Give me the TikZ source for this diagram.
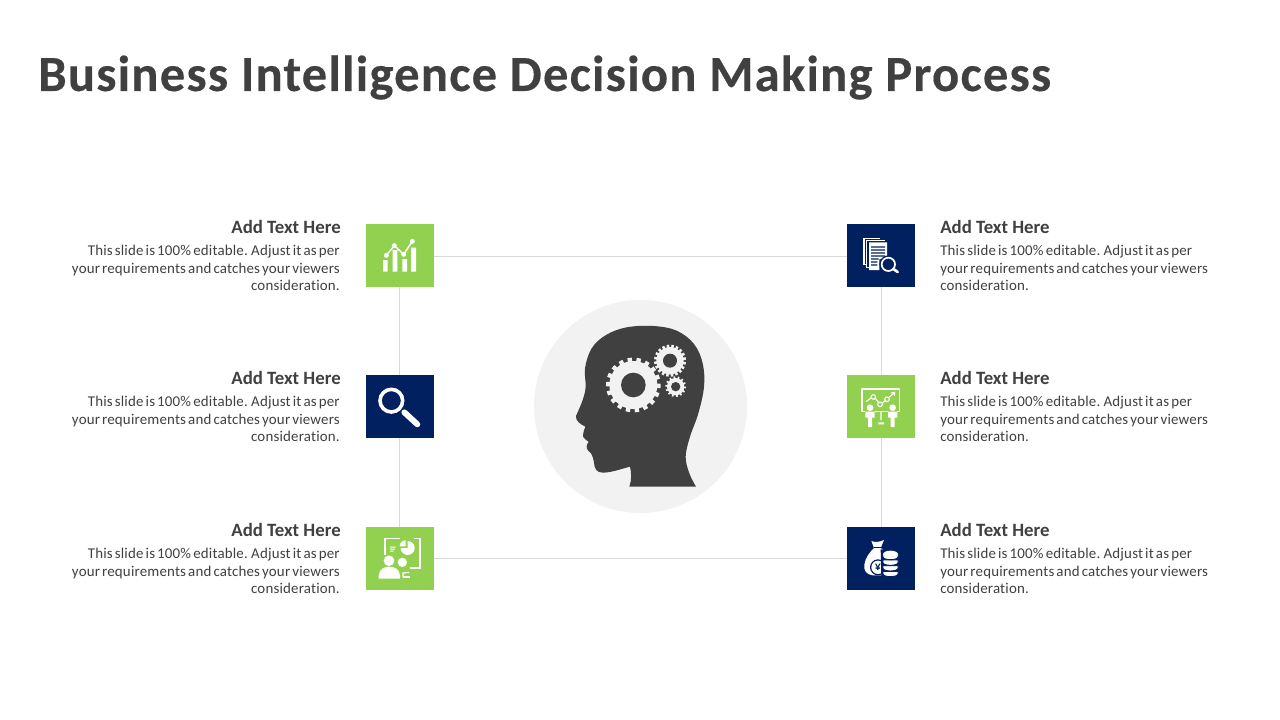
\documentclass[tikz,border=0pt]{standalone}
\usepackage{fontspec}
\setmainfont{Carlito}
\newfontfamily\titlefont[LetterSpace=2.4,BoldFeatures={FakeBold=0.25}]{Carlito}
\newfontfamily\bodyfont[LetterSpace=1.2,WordSpace=0.6,Ligatures=NoCommon]{Carlito}
\definecolor{ink}{HTML}{404040}
\definecolor{leaf}{HTML}{92D050}
\definecolor{navy}{HTML}{002060}
\definecolor{rulec}{HTML}{D9D9D9}
\definecolor{pale}{HTML}{F2F2F2}
\tikzset{
  sqbox/.style={minimum width=51pt,minimum height=47.25pt,inner sep=0pt,outer sep=0pt},
  greenbox/.style={sqbox,fill=leaf},
  navybox/.style={sqbox,fill=navy},
  linkline/.style={draw=rulec,line width=0.6pt},
  headl/.style={font=\fontsize{14.1}{15}\selectfont\bfseries,text=ink,inner sep=0pt},
  bodyl/.style={font=\bodyfont\fontsize{11.2}{13.05}\selectfont,text=ink,inner sep=0pt},
  zoomed/.style={shift={(#1)},x=0.25pt,y=-0.25pt},
  wl/.style={draw=white,line cap=round,line join=round},
}
\newcommand{\gearshape}[6]{% cx cy r-body r-tip teeth hole
  \fill[pale] (#1,#2) circle[radius=#3];
  \foreach \k in {1,...,#5}{
    \fill[pale,shift={(#1,#2)},rotate=360*\k/#5+8]
      (-#4*0.08,0) rectangle (#4*0.08,#4);
  }
  \fill[ink] (#1,#2) circle[radius=#6];
}
\newcommand{\leftblock}[3]{%
  \node[headl,anchor=base east] (#1h) at (341,#2+6.2) {Add Text Here};
  \node[bodyl,anchor=north east,align=right] (#1t) at (340,#2+18) {This slide is 100\% editable. Adjust it as per\\your requirements and catches your viewers\\consideration.};
}
\newcommand{\rightblock}[3]{%
  \node[headl,anchor=base west] (#1h) at (940,#2+6.2) {Add Text Here};
  \node[bodyl,anchor=north west,align=left] (#1t) at (940,#2+18) {This slide is 100\% editable. Adjust it as per\\your requirements and catches your viewers\\consideration.};
}
\begin{document}
\begin{tikzpicture}[x=0.75pt,y=-0.75pt]
\useasboundingbox[fill=white] (0,0) rectangle (1280,720);
\node[anchor=base west,inner sep=0pt,text=ink] (title) at (38,91)
  {\titlefont\fontsize{38}{42}\selectfont\bfseries Business Intelligence Decision Making Process};

\node[greenbox] (a) at (400,255.5) {};
\node[navybox]  (b) at (400,406.5) {};
\node[greenbox] (c) at (400,558.5) {};
\node[navybox]  (d) at (881,255.5) {};
\node[greenbox] (e) at (881,406.5) {};
\node[navybox]  (f) at (881,558.5) {};
\draw[linkline] ([xshift=-.5pt]a.south) -- ([xshift=-.5pt]b.north);
\draw[linkline] ([xshift=-.5pt]b.south) -- ([xshift=-.5pt]c.north);
\draw[linkline] (d) -- (e);
\draw[linkline] (e) -- (f);
\draw[linkline] ([yshift=-.4pt]a.east) -- ([yshift=-.4pt]d.west);
\draw[linkline] (c) -- (f);

\node[circle,fill=pale,minimum size=159.75pt,inner sep=0pt] (disc) at (640.5,406.5) {};

\leftblock{ta}{227}{}
\leftblock{tb}{378}{}
\leftblock{tc}{530}{}
\rightblock{td}{227}{}
\rightblock{te}{378}{}
\rightblock{tf}{530}{}

% head
\begin{scope}[zoomed={520,290}]
\fill[ink] (528,590) -- plot[smooth,tension=.6] coordinates {(528,590) (508,550) (497,500) (510,440) (535,370) (552,290) (548,220) (522,162) (470,122) (400,108) (320,112) (258,135) (215,175) (195,235) (197,290) (188,330) (168,378)}
  .. controls (166,392) and (180,402) .. (196,410)
  .. controls (190,425) and (188,435) .. (190,442)
  .. controls (195,448) and (202,452) .. (206,456)
  .. controls (198,465) and (198,475) .. (205,482)
  .. controls (218,492) and (220,505) .. (224,530)
  .. controls (228,546) and (240,550) .. (262,547)
  .. controls (285,544) and (310,535) .. (330,530)
  .. controls (334,550) and (336,565) .. (328,590) -- cycle;
\gearshape{340}{285}{72}{82}{18}{37}
\gearshape{450}{212}{41}{48}{20}{21}
\gearshape{467}{290}{26}{31}{14}{14}
\end{scope}

% chart icon
\begin{scope}[zoomed={355,215}]
\fill[white] (84,135) rectangle (98,170) (113,105) rectangle (127,170) (142,132) rectangle (156,170) (168,98) rectangle (183,170);
\draw[wl,line width=1.1pt] (94,121) -- (118,92) -- (146,118) -- (172,79);
\foreach \p in {(94,121),(118,92),(146,118),(172,79)} \fill[white] \p circle[radius=7.5];
\end{scope}

% magnifier icon
\begin{scope}[zoomed={355,365}]
\draw[white,line width=2.7pt] (109,107) circle[radius=34];
\draw[white,line width=4.4pt,line cap=round] (148,142) -- (187,178);
\end{scope}

% presenter icon
\begin{scope}[zoomed={355,518}]
\draw[white,line width=0.9pt] (135,62) -- (90,62) -- (90,110);
\draw[white,line width=0.9pt] (178,62) -- (195,62) -- (195,150) -- (165,150);
\fill[white] (158,90) -- (158,69) arc[start angle=270,end angle=540,radius=21] -- cycle;
\fill[white] (152,85) -- (134,85) arc[start angle=180,end angle=270,radius=18] -- cycle;
\fill[white] (105,86) rectangle (122,89) (105,92) rectangle (120,95) (105,98) rectangle (116,101);
\fill[white] (102,128) circle[radius=16];
\fill[white] (142,133) circle[radius=14];
\fill[white] (71,182) -- (71,172) .. controls (73,152) and (90,146) .. (103,146) .. controls (120,146) and (134,155) .. (135,172) -- (135,182) -- cycle;
\draw[white,line width=0.9pt] (144,177) -- (144,165) -- (163,163);
\draw[white,line width=0.9pt] (144,177) -- (164,177);
\end{scope}

% documents icon
\begin{scope}[zoomed={836,215}]
\draw[white,line width=0.8pt] (90,148) -- (84,148) -- (84,70) -- (132,70);
\draw[white,line width=0.8pt] (100,158) -- (92,158) -- (92,76) -- (146,76);
\fill[white] (99,82) rectangle (153,132) (99,82) rectangle (130,165);
\fill[navy] (105,94) rectangle (147,98) (105,103) rectangle (147,107) (105,112) rectangle (147,116) (105,121) rectangle (147,125) (105,130) rectangle (128,134) (105,139) rectangle (124,143) (105,148) rectangle (124,152);
\fill[navy] (157,148) circle[radius=27];
\draw[white,line width=1.3pt] (157,148) circle[radius=20];
\draw[white,line width=2pt,line cap=round] (172,162) -- (185,171);
\end{scope}

% board icon
\begin{scope}[zoomed={836,365}]
\draw[white,line width=1.1pt,line join=round] (86,140) -- (78,140) -- (78,72) -- (190,72) -- (190,140) -- (184,140);
\draw[white,line width=1.1pt] (116,140) -- (156,140);
\draw[white,line width=.8pt] (90,110) -- (108,97) (116,97) -- (128,113) (138,115) -- (150,105) (157,99) -- (175,83);
\draw[white,line width=.8pt] (165,84) -- (176,82) -- (175,92);
\foreach \p in {(112,96),(132,118),(153,103)} \draw[white,line width=.8pt] \p circle[radius=7];
\fill[white] (102,128) circle[radius=10] (170,128) circle[radius=10];
\fill[white] (88,140) rectangle (116,158) (96,150) rectangle (108,186);
\fill[white] (156,140) rectangle (184,158) (164,150) rectangle (176,186);
\fill[white] (133,140) rectangle (137,165) (127,172) rectangle (144,178);
\end{scope}

% money icon
\begin{scope}[zoomed={836,518}]
\fill[white] (106,69) .. controls (118,74) and (130,72) .. (144,66) -- (134,90)
  .. controls (150,98) and (155,110) .. (150,120) -- (140,130) -- (140,172) -- (110,172)
  .. controls (90,170) and (82,155) .. (85,140) .. controls (88,118) and (102,102) .. (114,90) -- cycle;
\draw[navy,line width=.7pt] (113,88) -- (137,88);
\fill[navy] (126,148) circle[radius=24];
\fill[white] (126,148) circle[radius=20];
\node[inner sep=0pt,text=navy,font=\fontsize{9}{10}\selectfont\bfseries] (yen) at (126,148) {¥};
\fill[navy] (134,94) -- (136,180) -- (195,180) -- (195,94) -- cycle;
\foreach \y in {160,143,126,109}{
  \filldraw[fill=white,draw=navy,line width=.7pt] (141,\y) -- (141,\y+8) arc[start angle=180,end angle=0,x radius=22.5,y radius=8] -- (186,\y) -- cycle;
}
\fill[white] (163.5,109) ellipse[x radius=22.5,y radius=11];
\end{scope}
\end{tikzpicture}
\end{document}
